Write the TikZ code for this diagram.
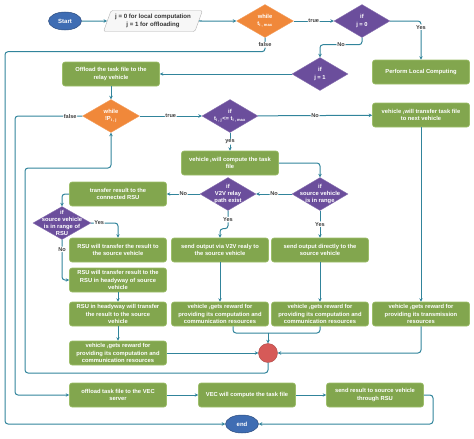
\documentclass[tikz,border=0pt]{standalone}
\usepackage{fontspec}
\setmainfont{Liberation Sans}
\usetikzlibrary{arrows.meta,positioning,shapes.geometric,calc}
\definecolor{boxgreen}{HTML}{82A64E}
\definecolor{boxedge}{HTML}{9DBE6A}
\definecolor{dorange}{HTML}{F0883A}
\definecolor{dpurple}{HTML}{6B4E9C}
\definecolor{termblue}{HTML}{3F6DB3}
\definecolor{flowline}{HTML}{31849B}
\definecolor{joinred}{HTML}{D65A58}

\begin{document}
\begin{tikzpicture}[x=1pt,y=-1pt,
		bx/.style={rounded corners=2.5pt,draw=boxedge,line width=0.6pt,fill=boxgreen,text=white,
				minimum width=97pt,minimum height=24pt,inner sep=1pt,align=center,font=\fontsize{5.8}{7.2}\selectfont\bfseries},
		dtxt/.style={text=white,align=center,inner sep=0pt,font=\fontsize{5.8}{7.2}\selectfont\bfseries},
		orng/.style={diamond,fill=dorange,draw=dorange!80!white,minimum width=57pt,minimum height=33pt,inner sep=0pt},
		purp/.style={diamond,fill=dpurple,draw=dpurple!80!white,minimum width=56pt,minimum height=33pt,inner sep=0pt},
		term/.style={ellipse,fill=termblue,draw=termblue!70!black,line width=0.5pt,text=white,minimum width=33pt,
				minimum height=18pt,inner sep=0pt,font=\fontsize{6}{7}\selectfont\bfseries},
		para/.style={trapezium,trapezium left angle=65,trapezium right angle=115,trapezium stretches=true,
				draw=gray!60,fill=gray!6,rounded corners=1.5pt,minimum width=100pt,minimum height=21pt,inner sep=1pt,
				align=center,text=black!80,font=\fontsize{6.1}{7.3}\selectfont\bfseries},
		joint/.style={circle,fill=joinred,draw=joinred!80!black,line width=0.4pt,minimum size=19pt,inner sep=0pt},
		lbl/.style={fill=white,text=black!75,inner sep=0.8pt,font=\fontsize{5.6}{6.5}\selectfont\bfseries},
		ln/.style={draw=flowline,line width=1pt,rounded corners=3pt},
		a/.style={ln,-{Stealth[length=3.5pt,width=3.5pt]}}
		]
		\useasboundingbox (0,0) rectangle (474,439);
		\node[term] (start) at (65,21) {Start};
		\node[para] (para) at (153,21) {j = 0 for local computation\\j = 1 for offloading};
		\node[orng,label={[dtxt]center:{while\\t\textsubscript{i , max}}}] (w1) at (265,21) {};
		\node[purp,label={[dtxt]center:{if\\j = 0}}] (j0) at (362,21) {};
		\node[bx] (perform) at (421,72) {Perform Local Computing};
		\node[purp,label={[dtxt]center:{if\\j = 1}}] (j1) at (320,74) {};
		\node[bx] (relay) at (111,74) {Offload the task file to the\\relay vehicle};
		\node[orng,label={[dtxt]center:{while\\!P\textsubscript{i , j}}}] (wp) at (111,116) {};
		\node[purp,label={[dtxt]center:{if\\t\textsubscript{i , j}<= t\textsubscript{i , max}}}] (it) at (230,116) {};
		\node[bx] (vt) at (421,115) {vehicle \textsubscript{i}will transfer task file\\to next vehicle};
		\node[bx] (vc) at (230,163) {vehicle \textsubscript{i}will compute the task\\file};
		\node[purp,label={[dtxt]center:{if\\source vehicle\\is in range}}] (sr) at (320,194) {};
		\node[purp,label={[dtxt]center:{if\\V2V relay\\path exist}}] (v2v) at (228,194) {};
		\node[bx] (rsu) at (118,194) {transfer result to the\\connected RSU};
		\node[purp,minimum width=58pt,minimum height=33pt,label={[dtxt]center:{if\\source vehicle\\is in range of\\RSU}}] (rd) at (62,223) {};
		\node[bx] (rt1) at (118,250) {RSU will transfer the result to\\the source vehicle};
		\node[bx] (rt2) at (118,280) {RSU will transfer result to the\\RSU in headyway of source\\vehicle};
		\node[bx] (rh) at (118,314) {RSU in headyway will transfer\\the result to the source\\vehicle};
		\node[bx] (rl) at (118,353) {vehicle \textsubscript{i}gets reward for\\providing its computation and\\communication resources};
		\node[bx] (sv) at (220,250) {send output via V2V realy to\\the source vehicle};
		\node[bx] (sd) at (320,250) {send output directly to the\\source vehicle};
		\node[bx] (rv) at (220,314) {vehicle \textsubscript{i}gets reward for\\providing its computation and\\communication resources};
		\node[bx] (rdr) at (320,314) {vehicle \textsubscript{i}gets reward for\\providing its computation and\\communication resources};
		\node[bx] (rtm) at (421,314) {vehicle \textsubscript{i}gets reward for\\providing its transmission\\resources};
		\node[joint] (mrg) at (268,353) {};
		\node[bx] (vec1) at (118,395) {offload task file to the VEC\\server};
		\node[bx] (vec2) at (247,395) {VEC will compute the task file};
		\node[bx] (vec3) at (375,395) {send result to source vehicle\\through RSU};
		\node[term] (end) at (242,424) {end};
		\coordinate (e1) at (5,424);
		\coordinate (e2) at (15,395);
		\coordinate (e3) at (433,424);
		\coordinate (lp1) at (25,373);
		\coordinate (lp2) at (25,168);
		\coordinate (mg) at (268,333);
		\draw[a] (start) -- (para);
		\draw[a] (para) -- (w1);
		\draw[a] (w1) -- node[lbl]{true} (j0);
		\draw[a] (j0.east) -| node[lbl,pos=0.58]{Yes} (perform.north);
		\draw[a] (j0.south) -- ++(0,7) -| node[lbl,pos=0.25]{No} (j1.north);
		\draw[a] (j1.west) -- (relay.east);
		\draw[a] (w1.south) -- node[lbl]{false} ++(0,14) -| (e1) -- (end.west);
		\draw[a] (relay) -- (wp);
		\draw[a] (wp.west) -| node[lbl,pos=0.09]{false} (e2) -- (vec1.west);
		\draw[a] (wp) -- node[lbl]{true} (it);
		\draw[a] (it) -- node[lbl]{No} (vt);
		\draw[a] (it) -- node[lbl]{yes} (vc);
		\draw[a] (vc.east) -| (sr.north);
		\draw[a] (sr) -- node[lbl]{No} (v2v);
		\draw[a] (v2v) -- node[lbl]{No} (rsu);
		\draw[a] (rsu.west) -| (rd.north);
		\draw[a] (rd.east) -| node[lbl,pos=0.15]{Yes} (rt1.north);
		\draw[a] (rd.south) |- node[lbl,pos=0.12]{No} (rt2.west);
		\draw[a] (rt2) -- (rh);
		\draw[a] (rh) -- (rl);
		\draw[a] (v2v.south) -- node[lbl]{Yes} ++(0,18) -| (sv.north);
		\draw[a] (sr) -- node[lbl]{Yes} (sd);
		\draw[a] (sv) -- (rv);
		\draw[a] (sd) -- (rdr);
		\draw[a] (vt) -- (rtm);
		\draw[a] (rl) -- (mrg);
		\draw[ln] ([xshift=13pt]rv.south) |- (mg);
		\draw[ln] (rdr.south) |- (mg);
		\draw[a] (mg) -- (mrg.north);
		\draw[a] (rtm.south) |- (mrg.east);
		\draw[a] (mrg.south) |- (lp1) -- (lp2) -| (wp.south);
		\draw[a] (vec1) -- (vec2);
		\draw[a] (vec2) -- (vec3);
		\draw[a] (vec3.east) -| (e3) -- (end.east);
	\end{tikzpicture}
\end{document}
